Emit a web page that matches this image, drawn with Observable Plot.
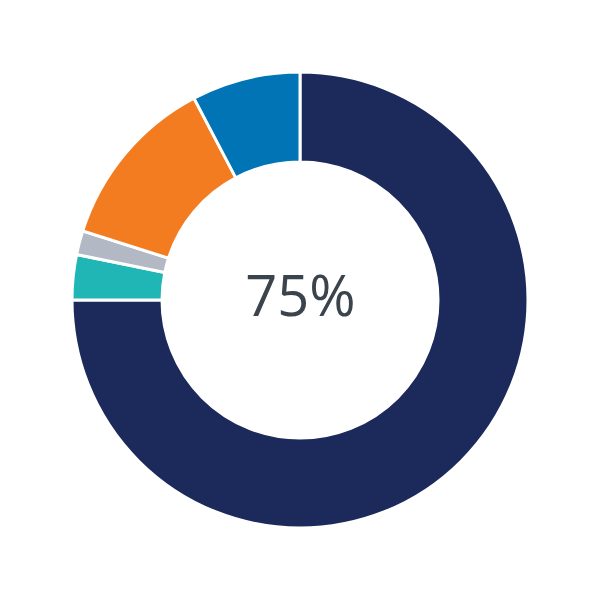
<!DOCTYPE html>
<html>
<head>
<meta charset="utf-8">
<script src="https://cdn.jsdelivr.net/npm/d3@7"></script>
<script src="https://cdn.jsdelivr.net/npm/@observablehq/plot@0.6"></script>
<style>
  html, body { margin: 0; padding: 0; background: #fff; }
</style>
</head>
<body>
<div id="chart"></div>
<script>
const categories = ["A", "B", "C", "D", "E"];
const values = [75, 3.2, 1.7, 12.4, 7.7];
const colors = ["#1b2a5b", "#20b6b6", "#b2b9c4", "#f47c20", "#0074b4"];
const centerLabel = ["75%"];

const data = categories.map((c, i) => ({category: c, value: values[i]}));

function donut(index, scales, vals, dimensions) {
  const {width, height} = dimensions;
  const cx = width / 2, cy = height / 2;
  const color = d3.scaleOrdinal(categories, colors);
  const pie = d3.pie().sort(null).value(d => d.value)(data);
  const arc = d3.arc().innerRadius(138).outerRadius(228);
  const g = d3.create("svg:g").attr("transform", `translate(${cx},${cy})`);
  g.selectAll("path")
    .data(pie)
    .join("path")
    .attr("d", arc)
    .attr("fill", d => color(d.data.category))
    .attr("stroke", "#fff")
    .attr("stroke-width", 3)
    .attr("stroke-linejoin", "miter");
  return g.node();
}

const chart = Plot.plot({
  width: 600,
  height: 600,
  margin: 0,
  x: {axis: null},
  y: {axis: null},
  marks: [
    donut,
    Plot.text(centerLabel, {
      text: d => d,
      frameAnchor: "middle",
      fontSize: 56,
      fill: "#3b434d",
      fontFamily: "Open Sans",
      dy: -2
    })
  ]
});
chart.style.fontFamily = "Open Sans";
document.getElementById("chart").appendChild(chart);
</script>
</body>
</html>
